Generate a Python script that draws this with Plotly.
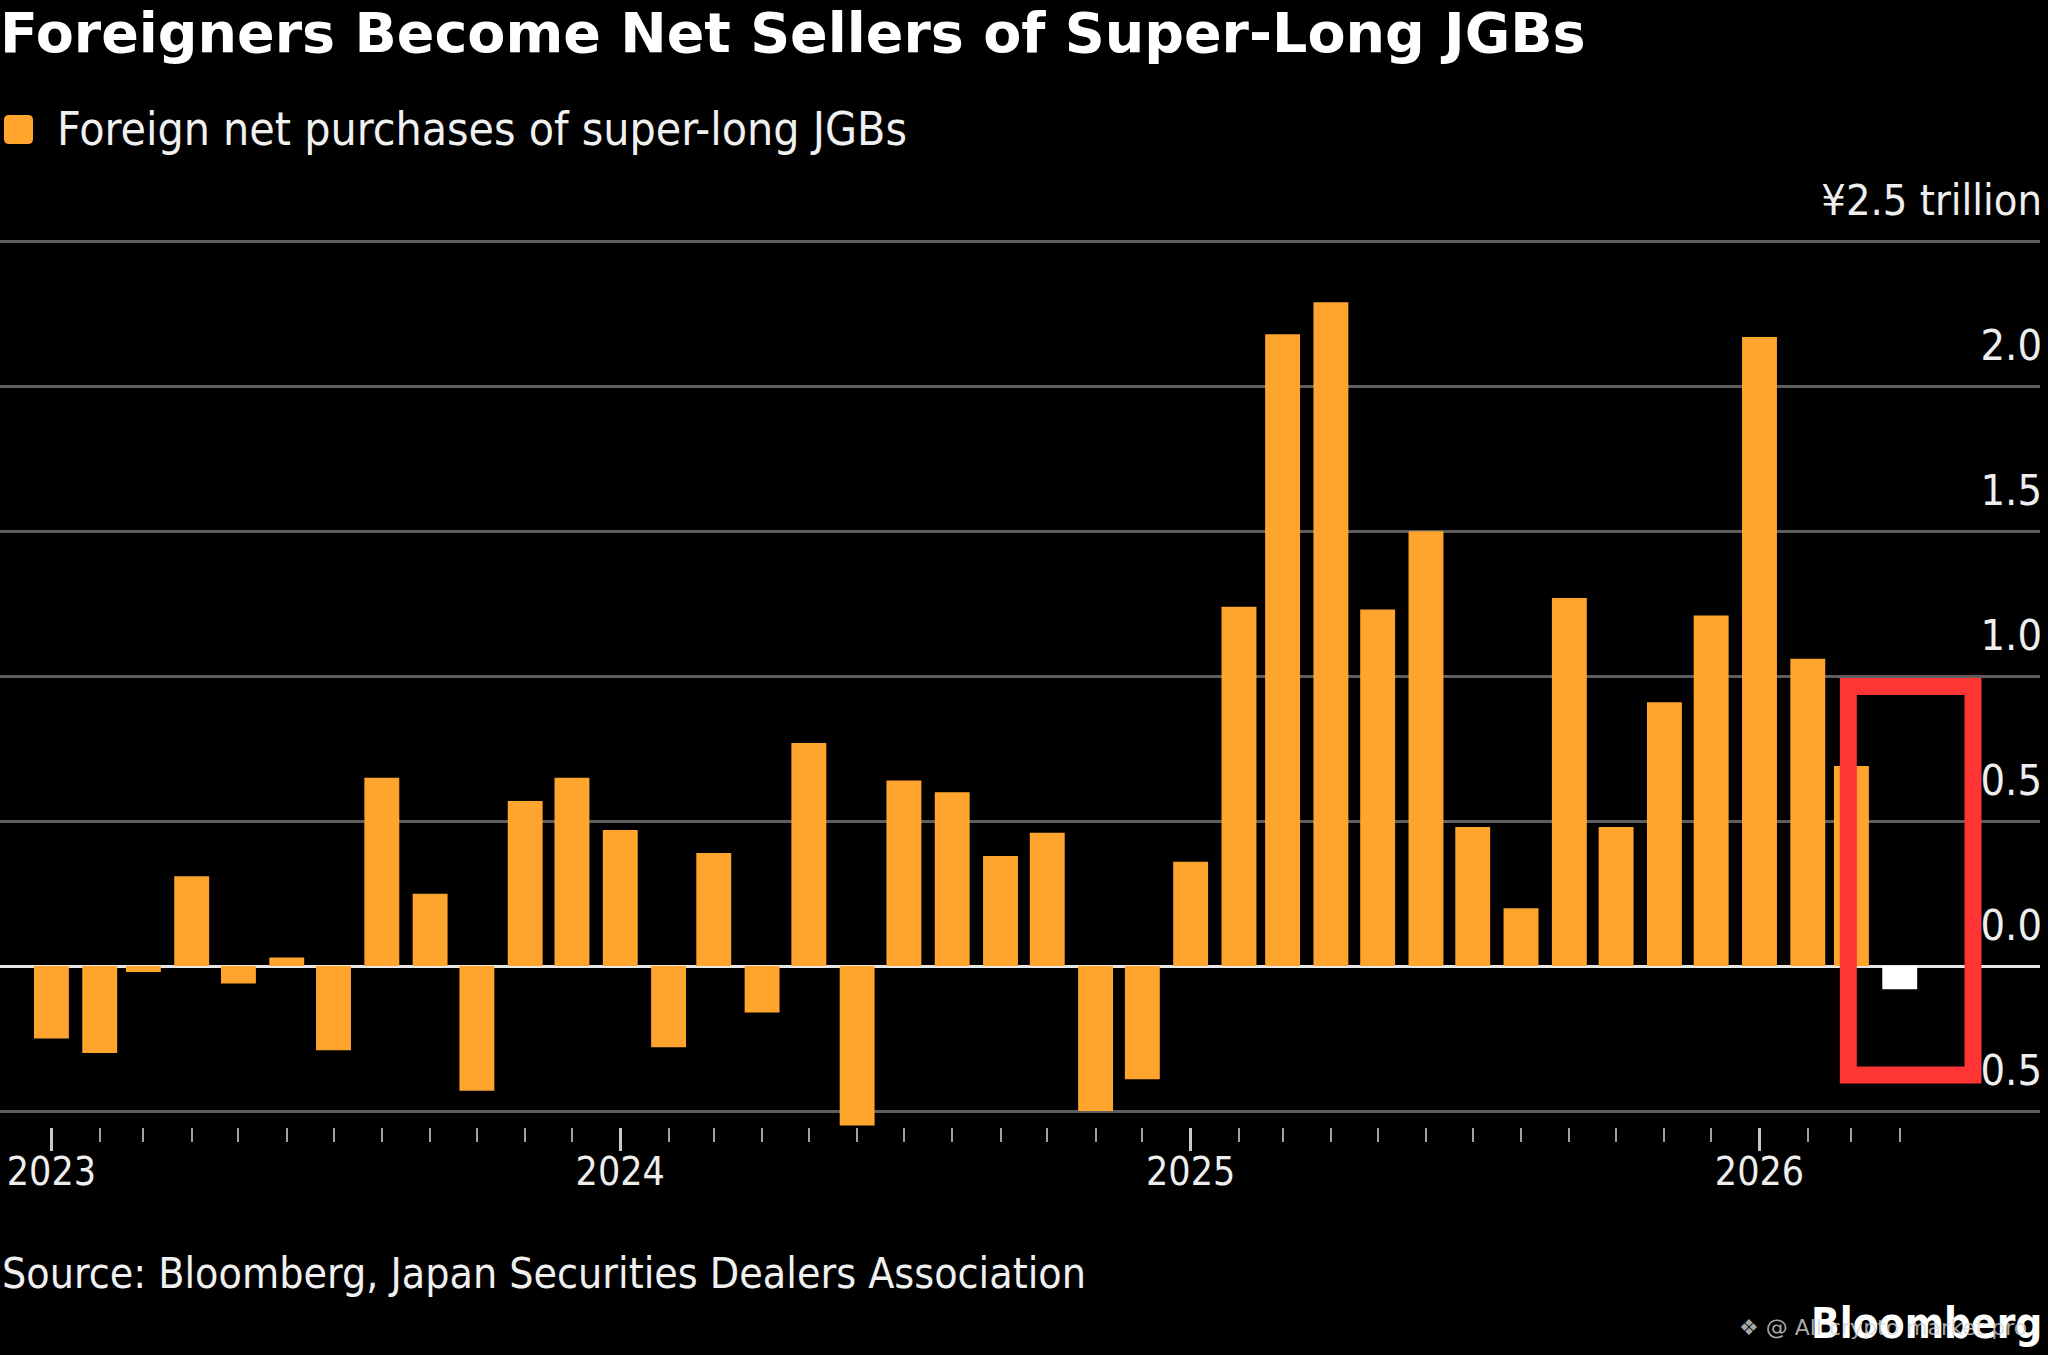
import plotly.graph_objects as go
import pandas as pd

# Foreign net purchases of super-long JGBs, trillion yen, monthly
months = pd.date_range("2023-01-01", "2026-04-01", freq="MS")
net_purchases = [
    -0.25, -0.30, -0.02, 0.31, -0.06, 0.03, -0.29, 0.65, 0.25, -0.43, 0.57, 0.65,
    0.47, -0.28, 0.39, -0.16, 0.77, -0.55, 0.64, 0.60, 0.38, 0.46, -0.50, -0.39,
    0.36, 1.24, 2.18, 2.29, 1.23, 1.50, 0.48, 0.20, 1.27, 0.48, 0.91, 1.21,
    2.17, 1.06, 0.69, -0.08,
]

year_ticks = ["2023-01-01", "2024-01-01", "2025-01-01", "2026-01-01"]
year_labels = ["2023", "2024", "2025", "2026"]

y_ticks = [-0.5, 0.0, 0.5, 1.0, 1.5, 2.0, 2.5]
y_labels = ["-0.5", "0.0", "0.5", "1.0", "1.5", "2.0", "¥2.5 trillion"]

ORANGE = "#ffa42d"
COND = "DejaVu Sans Condensed, Liberation Sans Narrow, Roboto Condensed, Roboto, sans-serif"

# latest month drawn in white
bar_colors = [ORANGE] * (len(net_purchases) - 1) + ["#ffffff"]

fig = go.Figure()
fig.add_trace(go.Bar(
    x=months, y=net_purchases,
    marker=dict(color=bar_colors, line=dict(width=0)),
    name="Foreign net purchases of super-long JGBs",
    showlegend=False,
))

fig.update_layout(
    width=2048, height=1355,
    margin=dict(l=0, r=8, t=240, b=228, pad=0),
    paper_bgcolor="#000000", plot_bgcolor="#000000",
    bargap=0.2,
    font=dict(family=COND, size=42, color="#eeeeee"),
    title=dict(
        text="<b>Foreigners Become Net Sellers of Super-Long JGBs</b>",
        font=dict(family="DejaVu Sans", size=55.5, color="#ffffff"),
        xref="paper", x=0.0, xanchor="left",
        yref="container", y=0.976, yanchor="middle",
    ),
)

fig.update_xaxes(
    type="date",
    range=["2022-11-29", "2026-06-30"],
    tickmode="array", tickvals=year_ticks, ticktext=year_labels,
    ticks="outside", ticklen=23, tickwidth=3, tickcolor="#c8c8c8",
    ticklabelstandoff=-13,
    tickfont=dict(family=COND, size=39, color="#eeeeee"),
    showgrid=False, showline=False, zeroline=False,
    minor=dict(tickmode="array", tickvals=list(months), ticks="outside",
               ticklen=14, tickwidth=2, tickcolor="#a0a0a0", showgrid=False),
)

fig.update_yaxes(
    side="right",
    range=[-0.555, 2.505],
    tickmode="array", tickvals=y_ticks, ticktext=y_labels,
    ticklabelposition="inside top", ticklabeloverflow="allow",
    ticklabelshift=-11, ticklabelstandoff=-5,
    ticks="",
    tickfont=dict(family=COND, size=43, color="#eeeeee"),
    showgrid=True, gridcolor="#5e5e5e", gridwidth=3,
    zeroline=True, zerolinecolor="#e6e6e6", zerolinewidth=3,
    showline=False,
)

# red highlight box round the latest month
fig.add_shape(
    type="rect", xref="x", yref="y",
    x0="2026-02-27", x1="2026-05-18", y0=-0.376, y1=0.965,
    line=dict(color="#ff3434", width=17), fillcolor="rgba(0,0,0,0)",
    layer="above",
)

# legend swatch (rounded square)
fig.add_shape(
    type="path", xref="paper", yref="paper",
    xsizemode="pixel", ysizemode="pixel", xanchor=0, yanchor=1,
    path="M9,96 L28,96 Q33,96 33,101 L33,120 Q33,125 28,125 L9,125 Q4,125 4,120 L4,101 Q4,96 9,96 Z",
    fillcolor=ORANGE, line=dict(width=0),
)

fig.add_annotation(
    text="Foreign net purchases of super-long JGBs",
    xref="paper", yref="paper", x=0.027, y=1.1251,
    xanchor="left", yanchor="middle", showarrow=False,
    font=dict(family=COND, size=46, color="#f0f0f0"),
)
fig.add_annotation(
    text="Source: Bloomberg, Japan Securities Dealers Association",
    xref="paper", yref="paper", x=0.0, y=-0.1646,
    xanchor="left", yanchor="middle", showarrow=False,
    font=dict(family=COND, size=42.5, color="#f0f0f0"),
)
fig.add_annotation(
    text="<b>Bloomberg</b>",
    xref="paper", yref="paper", x=1.002, y=-0.222,
    xanchor="right", yanchor="middle", showarrow=False,
    font=dict(family=COND, size=42, color="#ffffff"),
)
fig.add_annotation(
    text="❖ @ All crypto market pro",
    xref="paper", yref="paper", x=0.8515, y=-0.226,
    xanchor="left", yanchor="middle", showarrow=False,
    font=dict(family="DejaVu Sans", size=22, color="rgba(215,215,215,0.8)"),
)

# drop the default page margin so the 2048x1355 figure fills the window
fig.write_html(
    "out.html",
    config={"displayModeBar": False},
    post_script="document.body.style.margin='0';",
)
